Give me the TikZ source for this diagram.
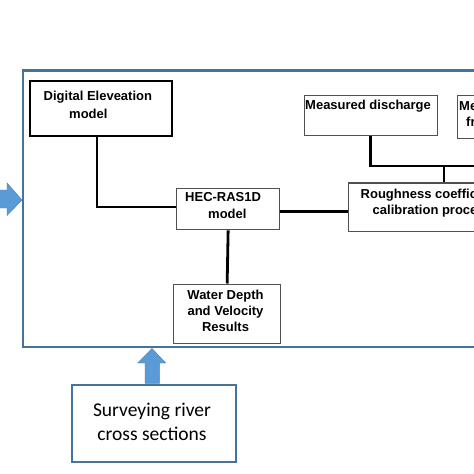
\documentclass[tikz,border=0pt]{standalone}
\usepackage{fontspec}
\setmainfont{Liberation Sans}
\newfontfamily\calibri{Carlito}
\definecolor{frameblue}{RGB}{70,114,158}
\definecolor{arrowblue}{RGB}{91,155,213}
\definecolor{boxgray}{RGB}{80,80,80}
\begin{document}
\begin{tikzpicture}[x=1pt,y=-1pt,
  inbox/.style={draw=boxgray,line width=1.3pt,fill=white,inner sep=0pt},
  conn/.style={line width=2.8pt,black},
  lbl/.style={font=\bfseries\fontsize{13}{16}\selectfont,inner sep=0pt,anchor=base west},
  bluearrow/.style={fill=arrowblue,draw=arrowblue!80!black,line width=0.4pt}]
\useasboundingbox (0,0) rectangle (474,474);
\begin{scope}
\clip (0,0) rectangle (474,474);
% outer frame
\draw[frameblue,line width=2.6pt] (23,70.5) rectangle (490,347);
% boxes
\node[inbox,draw=black,line width=1.8pt,minimum width=142pt,minimum height=55pt,anchor=north west] (dem) at (29,80) {};
\node[inbox,minimum width=103pt,minimum height=41.5pt,anchor=north west] (hec) at (176,187.5) {};
\node[inbox,minimum width=160pt,minimum height=48.5pt,anchor=north west] (rough) at (347.5,182.3) {};
\node[inbox,minimum width=133pt,minimum height=40.5pt,anchor=north west] (md) at (303.5,94.5) {};
\node[inbox,minimum width=120pt,minimum height=42.5pt,anchor=north west] (mw) at (456.5,95) {};
\node[inbox,minimum width=107pt,minimum height=59pt,anchor=north west] (wd) at (173,283.5) {};
\node[inbox,draw=frameblue,line width=2pt,minimum width=164pt,minimum height=76.5pt,anchor=north west] (sv) at (70.5,384.3) {};
% connectors
\coordinate (jn) at (444,166);
\coordinate (jr) at (490,166);
\draw[conn] ([xshift=-4pt]dem.south) |- ([yshift=2pt]hec.west);
\draw[conn] ([yshift=-2.5pt]hec.east) -- ([yshift=-2.5pt]hec.east -| rough.west);
\draw[conn] (hec.south) -- (wd.north);
\draw[conn] (md.south) |- (jr);
\draw[conn] (jn) -- (jn |- rough.north);
% texts
\node[lbl] (t1) at (43.5,100) {Digital Eleveation};
\node[lbl] (t2) at (69,118) {model};
\node[lbl] (t3) at (185,201.5) {HEC-RAS1D};
\node[lbl] (t4) at (208,218) {model};
\node[lbl] (t5) at (360.5,198) {Roughness coefficient};
\node[lbl] (t6) at (372.5,214) {calibration process};
\node[lbl] (t7) at (305,109.5) {Measured discharge};
\node[lbl] (t8) at (459,110.7) {Measured water level};
\node[lbl] (t9) at (466,126.7) {from field};
\node[font=\bfseries\fontsize{13}{16.3}\selectfont,align=center,inner sep=0pt,anchor=base] (t10) at (225.5,331.7) {Water Depth\\and Velocity\\Results};
\node[font=\calibri\fontsize{19.5}{23.3}\selectfont,align=center,inner sep=0pt,anchor=base] (t11) at (152,440) {Surveying river\\cross sections};
% blue arrows
\draw[bluearrow] (152,348.5) -- (165.7,363) -- (159.3,363) -- (159.3,383.5) -- (145,383.5) -- (145,363) -- (137.7,363) -- cycle;
\draw[bluearrow] (22,200) -- (7,183) -- (7,190) -- (-2,190) -- (-2,208) -- (7,208) -- (7,215.5) -- cycle;
\end{scope}
\end{tikzpicture}
\end{document}
